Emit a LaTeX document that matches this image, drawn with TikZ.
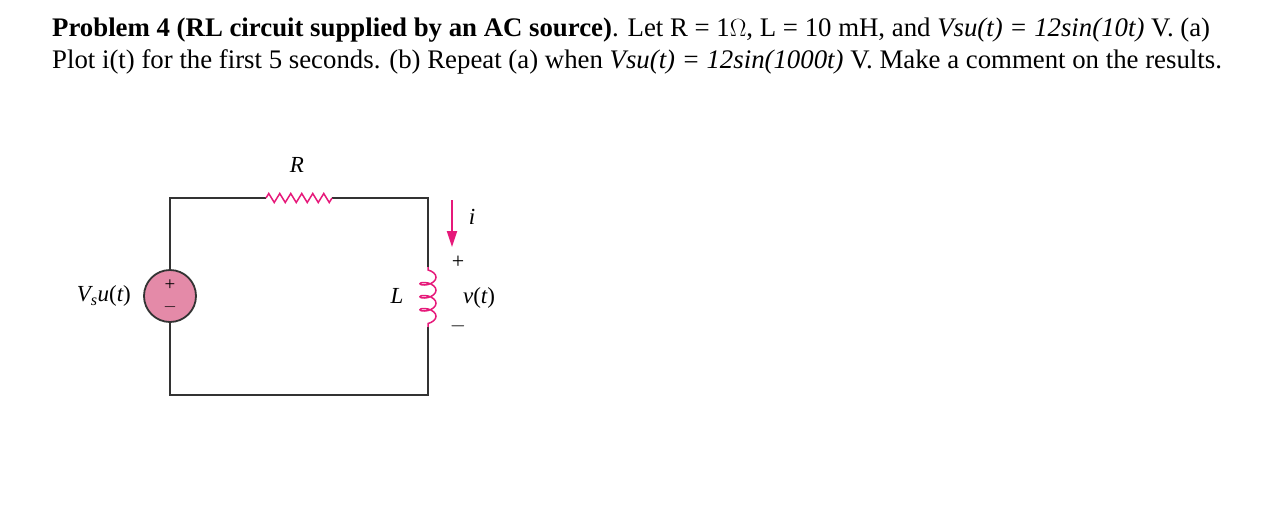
\documentclass[tikz,border=0pt]{standalone}
\usepackage{fontspec}
\setmainfont{Liberation Serif}
\usetikzlibrary{decorations.pathmorphing,arrows.meta}
\definecolor{pk}{HTML}{E6197A}
\definecolor{pkfill}{HTML}{E48AA8}
\tikzset{wire/.style={line width=2pt,draw=black!80},
comp/.style={line width=1.5pt,draw=pk},
lbl/.style={inner sep=0pt,font=\fontsize{23}{26}\selectfont\itshape},
title/.style={inner sep=0pt,anchor=west,font=\fontsize{26.8}{30}\selectfont}}
\begin{document}
\begin{tikzpicture}[x=1pt,y=-1pt]
\useasboundingbox (0,0) rectangle (1261,517);
\node[title] (t1) at (52,30) {\textbf{Problem 4 (RL circuit supplied by an AC source)}. Let R = 1$\Omega$, L = 10 mH, and \textit{Vsu(t) = 12sin(10t)} V. (a)};
\node[title] (t2) at (52,62) {Plot i(t) for the first 5 seconds. (b) Repeat (a) when \textit{Vsu(t) = 12sin(1000t)} V. Make a comment on the results.};
\coordinate (tl) at (170,198); \coordinate (tr) at (428,198);
\coordinate (bl) at (170,395); \coordinate (br) at (428,395);
\coordinate (r1) at (266,198); \coordinate (r2) at (332,198);
\coordinate (l1) at (428,267); \coordinate (l2) at (428,327);
\node[circle,draw=black!80,line width=1.8pt,fill=pkfill,minimum size=52pt,inner sep=0pt] (src) at (170,296) {};
\node[inner sep=0pt,font=\fontsize{19}{19}\selectfont] (sp) at (170,285) {+};
\node[inner sep=0pt,font=\fontsize{19}{19}\selectfont] (sm) at (170,307) {$-$};
\draw[wire] (src.north) -- (tl) -- (r1);
\draw[wire] (r2) -- (tr) -- (l1);
\draw[wire] (l2) -- (br) -- (bl) -- (src.south);
\draw[comp,decorate,decoration={zigzag,amplitude=4.5,segment length=11}] (r1) -- (r2);
\draw[comp,decorate,decoration={coil,aspect=0.5,amplitude=8,segment length=13,pre length=3,post length=3}] (l1) -- (l2);
\coordinate (a1) at (452,200); \coordinate (a2) at (452,247);
\draw[pk,line width=2pt,-{Triangle[length=16pt,width=10pt]}] (a1) -- (a2);
\node[lbl] (R) at (297,165) {R};
\node[lbl] (i) at (472,217) {i};
\node[lbl] (L) at (397,296) {L};
\node[inner sep=0pt,font=\fontsize{22}{22}\selectfont] (vp) at (458,262) {+};
\node[lbl] (v) at (479,298) {v\upshape(\itshape t\upshape)};
\node[inner sep=0pt,font=\fontsize{22}{22}\selectfont] (vm) at (458,326) {$-$};
\node[lbl,anchor=east] (vs) at (131,296) {V\textsubscript{s}u\upshape(\itshape t\upshape)};
\end{tikzpicture}
\end{document}
